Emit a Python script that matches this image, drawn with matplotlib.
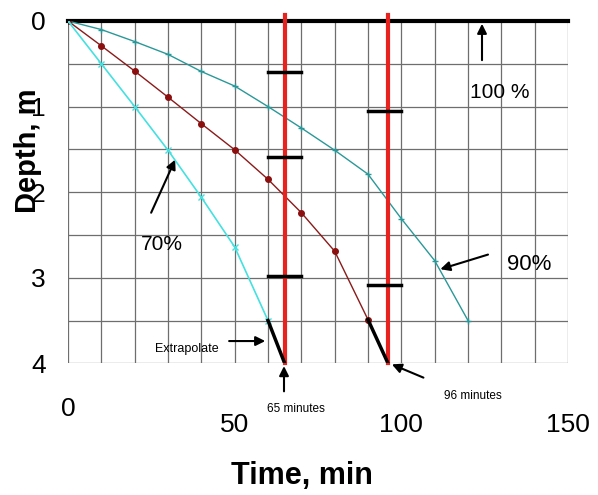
#!/usr/bin/env python3
''' Settling depth vs time for 70 / 80 / 90 % removal curves
'''

import numpy as np
import matplotlib
matplotlib.use('Agg')
from matplotlib import pyplot

#
# data
#

# time axis of the measured curves (min)
time_70 = [0, 10, 20, 30, 40, 50, 60]
depth_70 = [0.0, 0.50, 1.00, 1.51, 2.06, 2.64, 3.50]

time_80 = [0, 10, 20, 30, 40, 50, 60, 70, 80, 90]
depth_80 = [0.0, 0.29, 0.585, 0.89, 1.20, 1.505, 1.85, 2.24, 2.69, 3.49]

time_90 = [0, 10, 20, 30, 40, 50, 60, 70, 80, 90, 100, 110, 120]
depth_90 = [0.0, 0.10, 0.24, 0.39, 0.59, 0.76, 1.00, 1.25, 1.51, 1.79, 2.31, 2.80, 3.50]

# extrapolated tails to the 4 m depth
extrap_70 = ([60, 65], [3.5, 4.0])
extrap_80 = ([90, 96], [3.49, 4.0])

# settling times (min) and the depth marks on them
settle_times = [65, 96]
marks_65 = [0.60, 1.59, 2.98]
marks_96 = [1.05, 3.08]

xticks = [0, 50, 100, 150]
yticks = [0, 1, 2, 3, 4]

#
# plot
#

pyplot.rcParams['font.family'] = ['Liberation Sans', 'DejaVu Sans']

fig = pyplot.figure(figsize=(5.98, 4.95), dpi=100)
ax = fig.add_axes([68/598, 1 - 363.3/495, 500/598, 342.3/495])

ax.set_xlim(0, 150)
ax.set_ylim(4, 0)

# grid
for t in np.arange(0, 151, 10):
    ax.axvline(t, color='#6e6e6e', lw=0.9, zorder=1)
for d in np.arange(0.5, 4.01, 0.5):
    ax.axhline(d, color='#6e6e6e', lw=0.9, zorder=1)
for s in ax.spines.values():
    s.set_visible(False)

# 100 % line at the surface
ax.plot([0, 150], [0, 0], color='black', lw=3, zorder=3, clip_on=False)

# curves
ax.plot(time_90, depth_90, color='#2a9898', lw=1, marker='+', ms=4,
    mew=1, zorder=4)
ax.plot(time_80, depth_80, color='#8b1a1a', lw=1, marker='o', ms=4,
    mfc='#8b0f0f', mec='#8b0f0f', zorder=4)
ax.plot(time_70, depth_70, color='#45e0e0', lw=1.2, marker='x', ms=4,
    mew=1, zorder=4)

# extrapolation
ax.plot(*extrap_70, color='black', lw=2.5, zorder=5)
ax.plot(*extrap_80, color='black', lw=2.5, zorder=5)

# settling time lines
for t in settle_times:
    ax.plot([t, t], [-0.07, 4.0], color='#e8231f', lw=3, zorder=4,
        clip_on=False)
for d in marks_65:
    ax.plot([60, 70], [d, d], color='black', lw=2.5, zorder=5)
for d in marks_96:
    ax.plot([90, 100], [d, d], color='black', lw=2.5, zorder=5)

# annotations
arrow = dict(arrowstyle='-|>', color='black', lw=1.5, mutation_scale=14)
ax.annotate('', xy=(124.2, 0.0), xytext=(124.2, 0.49), arrowprops=arrow,
    annotation_clip=False)
ax.text(120.6, 0.84, '100 %', fontsize=15, va='center', ha='left')
ax.annotate('', xy=(32.5, 1.59), xytext=(24.6, 2.27), arrowprops=arrow)
ax.text(22, 2.61, '70%', fontsize=15, va='center', ha='left')
ax.annotate('', xy=(110.9, 2.91), xytext=(126.8, 2.72), arrowprops=arrow)
ax.text(131.6, 2.85, '90%', fontsize=16, va='center', ha='left')
ax.annotate('', xy=(60, 3.74), xytext=(47.5, 3.74), arrowprops=arrow)
ax.text(26, 3.83, 'Extrapolate', fontsize=9, va='center', ha='left')
ax.annotate('', xy=(64.8, 4.0), xytext=(64.8, 4.36), arrowprops=arrow,
    annotation_clip=False)
ax.text(68.4, 4.53, '65 minutes', fontsize=8.5, va='center', ha='center')
ax.annotate('', xy=(96.4, 4.0), xytext=(107.4, 4.18), arrowprops=arrow,
    annotation_clip=False)
ax.text(121.5, 4.38, '96 minutes', fontsize=8.5, va='center', ha='center')

# ticks
ax.set_xticks(xticks)
ax.set_xticklabels([str(v) for v in xticks], fontsize=19)
ax.set_yticks(yticks)
ax.set_yticklabels([str(v) for v in yticks], fontsize=19)
ax.tick_params(length=0)
ax.tick_params(axis='y', pad=16)
ax.tick_params(axis='x', pad=36)
ax.xaxis.get_major_ticks()[0].set_pad(24)

ax.set_xlabel('Time, min', fontsize=22, fontweight='bold')
ax.set_ylabel('Depth, m', fontsize=21, fontweight='bold')
ax.xaxis.set_label_coords(0.468, -0.33)
ax.xaxis.label.set_va('center')
ax.yaxis.set_label_coords(-0.08, 0.62)
ax.yaxis.label.set_va('center')

fig.savefig('out.png', dpi=100)
